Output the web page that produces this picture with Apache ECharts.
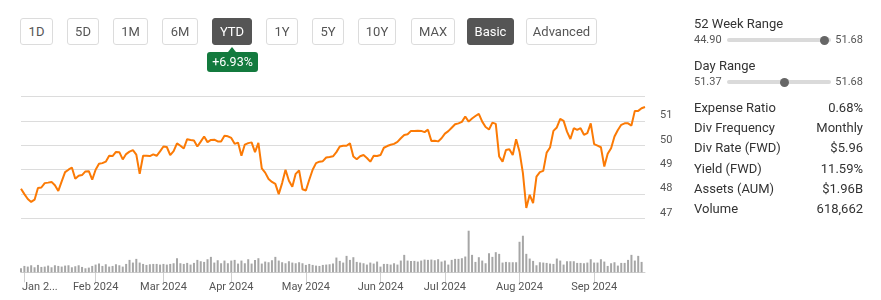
<!DOCTYPE html>
<html><head><meta charset="utf-8">
<script src="https://cdn.jsdelivr.net/npm/echarts@6/dist/echarts.min.js"></script>
<style>
html,body{margin:0;padding:0;background:#fff;}
body{width:881px;height:300px;position:relative;overflow:hidden;font-family:Roboto,'Noto Sans',sans-serif;}
#chart{position:absolute;left:0;top:0;width:881px;height:300px;}
.btn{position:absolute;top:18px;height:27px;box-sizing:border-box;border:1px solid #dcdcdc;border-radius:3px;font-size:13px;color:#555;line-height:25px;text-align:center;background:#fff;}
.btn.on{background:#555;border-color:#555;color:#fff;}
.badge{position:absolute;left:207px;top:52px;width:51px;height:20px;background:#137a3e;border-radius:3px;color:#fff;font-size:12.5px;line-height:20px;text-align:center;}
.tri{position:absolute;left:228px;top:47px;width:0;height:0;border-left:4.5px solid transparent;border-right:4.5px solid transparent;border-bottom:5px solid #137a3e;}
.t{position:absolute;white-space:nowrap;}
.lab{font-size:13px;color:#333;height:16px;line-height:16px;}
.sm{font-size:11px;color:#555;height:14px;line-height:14px;}
.track{position:absolute;left:727px;width:104px;height:4px;background:#dadada;border-radius:2px;}
.knob{position:absolute;width:9px;height:9px;border-radius:50%;background:#666;}
</style>
</head><body>
<div id="chart"></div>
<div class="btn" style="left:20px;width:33px">1D</div>
<div class="btn" style="left:67px;width:32px">5D</div>
<div class="btn" style="left:113px;width:35px">1M</div>
<div class="btn" style="left:162px;width:36px">6M</div>
<div class="btn on" style="left:212px;width:40px">YTD</div>
<div class="btn" style="left:266px;width:32px">1Y</div>
<div class="btn" style="left:312px;width:32px">5Y</div>
<div class="btn" style="left:358px;width:38px">10Y</div>
<div class="btn" style="left:411px;width:44px">MAX</div>
<div class="btn on" style="left:467px;width:47px">Basic</div>
<div class="btn" style="left:526px;width:71px">Advanced</div>
<div class="tri"></div>
<div class="badge">+6.93%</div>

<div class="t lab" style="left:694px;top:16px">52 Week Range</div>
<div class="t sm" style="left:694px;top:33px">44.90</div>
<div class="track" style="top:38px"></div>
<div class="knob" style="left:820px;top:35.5px"></div>
<div class="t sm" style="right:18px;top:33px">51.68</div>
<div class="t lab" style="left:694px;top:58px">Day Range</div>
<div class="t sm" style="left:694px;top:75px">51.37</div>
<div class="track" style="top:80px"></div>
<div class="knob" style="left:779.5px;top:77.5px"></div>
<div class="t sm" style="right:18px;top:75px">51.68</div>

<div class="t lab" style="left:694px;top:100px">Expense Ratio</div>
<div class="t lab" style="right:18px;top:100px">0.68%</div>
<div class="t lab" style="left:694px;top:120px">Div Frequency</div>
<div class="t lab" style="right:18px;top:120px">Monthly</div>
<div class="t lab" style="left:694px;top:140px">Div Rate (FWD)</div>
<div class="t lab" style="right:18px;top:140px">$5.96</div>
<div class="t lab" style="left:694px;top:160.5px">Yield (FWD)</div>
<div class="t lab" style="right:18px;top:160.5px">11.59%</div>
<div class="t lab" style="left:694px;top:180.5px">Assets (AUM)</div>
<div class="t lab" style="right:18px;top:180.5px">$1.96B</div>
<div class="t lab" style="left:694px;top:200.5px">Volume</div>
<div class="t lab" style="right:18px;top:200.5px">618,662</div>

<script>
// Trading days Dec 29 2023 .. Sep 25 2024
const startDate = '2023-12-29';
const holidays = ['2024-01-01','2024-01-15','2024-02-19','2024-03-29','2024-05-27','2024-06-19','2024-07-04','2024-09-02'];
const nDays = 185;

const prices = [
48.22,48.0,47.8,47.68,47.77,48.25,48.27,48.45,48.47,48.5,
48.36,48.13,48.52,48.9,49.0,49.09,48.63,48.75,48.78,48.93,
48.94,48.59,49.0,49.24,49.27,49.33,49.57,49.56,49.73,49.72,
49.42,49.64,49.74,49.8,49.62,48.83,49.57,49.57,49.56,49.63,
49.57,49.75,49.95,49.93,49.6,49.76,50.08,49.98,49.87,50.25,
50.22,50.2,49.95,50.15,50.36,50.13,50.22,50.23,50.16,50.16,
50.39,50.37,50.3,50.06,50.11,49.57,50.03,50.09,50.12,49.72,
50.1,49.05,48.88,48.62,48.5,48.42,48.0,48.45,49.0,48.55,
48.3,48.83,48.97,48.2,48.15,48.59,49.0,49.27,49.33,49.35,
49.5,49.52,49.55,49.72,49.95,49.98,49.98,50.08,49.54,49.43,
49.55,49.6,49.48,49.33,49.57,49.56,49.6,49.9,49.97,50.02,
50.06,50.14,50.29,50.42,50.45,50.59,50.59,50.6,50.59,50.54,
50.64,50.18,50.19,50.16,50.29,50.48,50.58,50.72,50.86,50.9,
50.96,51.18,50.97,51.1,51.2,51.29,50.97,50.75,50.65,50.93,
50.88,49.54,49.33,49.81,49.84,49.6,50.25,49.74,48.86,47.43,
47.97,47.63,48.72,48.9,48.95,49.7,49.91,50.59,50.73,51.08,
51.0,50.56,50.26,50.7,50.63,50.7,50.43,50.5,50.9,50.05,
49.99,49.92,49.13,49.65,49.88,50.36,50.63,50.84,50.9,50.9,
50.81,51.41,51.41,51.52,51.57
];

// volume in thousands of shares
const volumes = [
240,380,340,420,300,440,320,340,400,300,
420,380,340,400,420,300,360,420,320,240,
280,380,460,520,380,480,340,380,480,420,
340,500,740,580,800,580,500,440,480,500,
500,460,500,460,500,540,840,540,500,560,
460,560,740,660,620,780,920,580,720,540,
700,540,700,740,520,700,540,780,520,740,
840,520,640,600,720,920,700,600,540,660,
580,540,600,540,440,500,440,400,380,440,
460,480,520,880,
680,580,980,740,900,620,580,540,460,580,
520,640,340,500,500,460,540,460,700,1040,
700,680,680,640,700,760,740,760,720,780,
640,700,460,740,800,800,840,940,
2480,1040,620,900,700,540,1140,920,1200,1100,
580,620,600,600,600,
1820,2180,1100,820,680,420,600,580,560,520,500,
820,700,460,660,660,660,560,560,540,580,
780,580,580,780,640,380,540,600,400,560,
560,740,1040,
700,980,620
];

const tickLabels = ['Jan 2...','Feb 2024','Mar 2024','Apr 2024','May 2024','Jun 2024','Jul 2024','Aug 2024','Sep 2024'];

function tradingDates(start, n, hol) {
  const out = [];
  const d = new Date(start + 'T12:00:00Z');
  while (out.length < n) {
    const s = d.toISOString().slice(0, 10);
    const wd = d.getUTCDay();
    if (wd !== 0 && wd !== 6 && hol.indexOf(s) < 0) out.push(s);
    d.setUTCDate(d.getUTCDate() + 1);
  }
  return out;
}
const dates = tradingDates(startDate, nDays, holidays);
// first trading day of each month in 2024
const monthStart = {};
dates.forEach((s, i) => {
  if (s.slice(0, 4) !== '2024') return;
  const m = s.slice(0, 7);
  if (!(m in monthStart)) monthStart[m] = i;
});
const tickIdx = Object.values(monthStart);
const labelOf = {};
tickIdx.forEach((idx, k) => { labelOf[idx] = tickLabels[k]; });
const isTick = (i) => labelOf[i] !== undefined;

const chart = echarts.init(document.getElementById('chart'), null, {renderer: 'canvas'});
chart.setOption({
  animation: false,
  grid: [
    {left: 21, right: 236, top: 96.5, height: 122, outerBoundsMode: 'none'},
    {left: 21, right: 236, top: 222, height: 50.3, outerBoundsMode: 'none'}
  ],
  xAxis: [
    {type: 'category', gridIndex: 0, data: dates, boundaryGap: false,
     axisLine: {show: false}, axisTick: {show: false}, axisLabel: {show: false}, splitLine: {show: false}},
    {type: 'category', gridIndex: 1, data: dates, boundaryGap: false,
     axisLine: {show: true, lineStyle: {color: '#d0d0d0', width: 1}},
     axisTick: {show: true, alignWithLabel: true, length: 10, interval: (i) => isTick(i), lineStyle: {color: '#d0d0d0'}},
     axisLabel: {show: true, interval: (i) => isTick(i), margin: 9, color: '#555', fontSize: 11, fontFamily: 'Roboto',
       formatter: (v, i) => i === tickIdx[0] ? '{first|' + labelOf[i] + '}' : (labelOf[i] || ''),
       rich: {first: {padding: [0, 0, 0, 31], color: '#555', fontSize: 11, fontFamily: 'Roboto'}}},
     splitLine: {show: false}}
  ],
  yAxis: [
    {type: 'value', gridIndex: 0, position: 'right', min: 47, max: 52, interval: 1,
     axisLine: {show: false}, axisTick: {show: false},
     splitLine: {show: true, lineStyle: {color: '#dcdcdc', width: 1}},
     axisLabel: {show: true, showMaxLabel: false, margin: 15, verticalAlign: 'bottom', color: '#555', fontSize: 11, fontFamily: 'Roboto'}},
    {type: 'value', gridIndex: 1, min: 0, max: 3000, show: false, splitLine: {show: false}}
  ],
  series: [
    {type: 'line', xAxisIndex: 0, yAxisIndex: 0, data: prices, showSymbol: false, symbol: 'none',
     lineStyle: {color: '#fb7a05', width: 2}, itemStyle: {color: '#fb7a05'}},
    {type: 'bar', xAxisIndex: 1, yAxisIndex: 1, data: volumes, barWidth: 2,
     itemStyle: {color: '#a6a6a6'}}
  ]
});
</script>
</body></html>
